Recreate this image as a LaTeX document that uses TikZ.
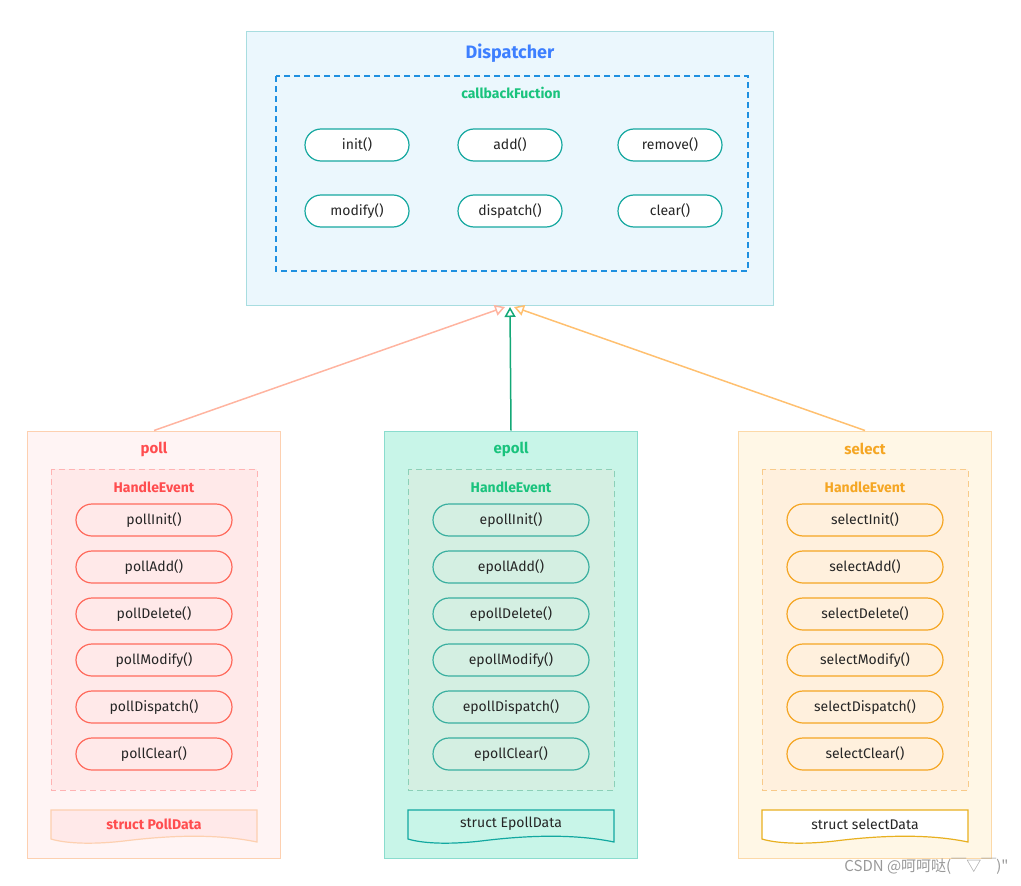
\documentclass[tikz,border=0pt]{standalone}
\usepackage{fontspec}
\setmainfont{Fira Sans}
\newfontfamily\cjk{Noto Sans CJK SC}
\usetikzlibrary{calc,arrows.meta}
\definecolor{dispfill}{HTML}{EBF7FD}\definecolor{displine}{HTML}{A8DDE0}
\definecolor{dispblue}{HTML}{3D7FFF}\definecolor{dashblue}{HTML}{1E90E0}
\definecolor{cbgreen}{HTML}{19C37D}\definecolor{pillteal}{HTML}{16A8A0}
\definecolor{pfill}{HTML}{FFF4F4}\definecolor{pline}{HTML}{FDD0B0}\definecolor{pin}{HTML}{FFE9E9}\definecolor{pdash}{HTML}{FFB3B3}\definecolor{pred}{HTML}{FF4D4F}\definecolor{ppill}{HTML}{FF6A5C}
\definecolor{efill}{HTML}{C8F5E8}\definecolor{eline}{HTML}{8ADCCE}\definecolor{ein}{HTML}{D4EFE2}\definecolor{edash}{HTML}{8CD0B8}\definecolor{epill}{HTML}{3AAFA0}\definecolor{edoc}{HTML}{12A8A0}
\definecolor{sfill}{HTML}{FFF7E6}\definecolor{sline}{HTML}{FCD9A8}\definecolor{sin}{HTML}{FFF0DD}\definecolor{sdash}{HTML}{F8CA8A}\definecolor{sor}{HTML}{F5A623}\definecolor{sdoc}{HTML}{E8B020}
\definecolor{txt}{HTML}{262626}
\definecolor{apoll}{HTML}{FFB4A0}\definecolor{aepoll}{HTML}{13A876}\definecolor{asel}{HTML}{FFC070}
\tikzset{
  box/.style={draw, line width=1pt, inner sep=0pt},
  pill/.style={draw, line width=1.2pt, rounded corners=16pt, minimum height=32pt, font=\fontsize{14pt}{16pt}\selectfont, text=txt},
  small/.style={pill, minimum width=104pt, fill=white},
  ev/.style={pill, minimum width=156pt},
  inh/.style={line width=1.5pt, -{Triangle[open,length=10pt,width=11pt]}},
}
\begin{document}
\begin{tikzpicture}[x=1pt,y=-1pt]
\useasboundingbox (0,0) rectangle (1021,886);
\draw[line width=1pt, draw=displine, fill=dispfill] (246,31) rectangle (773,305);
\node[inner sep=0pt, minimum width=527pt, minimum height=274pt] (disp) at (509.5,168) {};
\node[text=dispblue, font=\bfseries\fontsize{18pt}{20pt}\selectfont] (dt) at (510,53) {Dispatcher};
\draw[line width=1.2pt, dashblue, dash pattern=on 6pt off 4pt] (276,76) rectangle (748,271);
\node[text=cbgreen, font=\bfseries\fontsize{14pt}{16pt}\selectfont] (cb) at (511,93) {callbackFuction};
\foreach \n/\t/\x/\y in {i/init()/357/145, a/add()/510/145, r/remove()/670/145, m/modify()/357/211, d/dispatch()/510/211, c/clear()/670/211}
  \node[small, draw=pillteal] (\n) at (\x,\y) {\t};
\foreach \k/\cx/\fl/\ln/\inn/\da/\tc/\pc/\nm/\P in {
  p/154/pfill/pline/pin/pdash/pred/ppill/poll/poll,
  e/511/efill/eline/ein/edash/cbgreen/epill/epoll/epoll,
  s/865/sfill/sline/sin/sdash/sor/sor/select/select}{
  \node[box, draw=\ln, fill=\fl, minimum width=253pt, minimum height=427pt] (\k box) at (\cx,644.5) {};
  \node[text=\tc, font=\bfseries\fontsize{15pt}{17pt}\selectfont] (\k t) at (\cx,449) {\nm};
  \draw[line width=1pt, draw=\da, fill=\inn, dash pattern=on 6pt off 4pt] (\cx-103,469) rectangle (\cx+103,790);
  \node[text=\tc, font=\bfseries\fontsize{14pt}{16pt}\selectfont] (\k h) at (\cx,487) {HandleEvent};
  \foreach \j/\s/\y in {1/Init/520, 2/Add/567, 3/Delete/614, 4/Modify/660, 5/Dispatch/707, 6/Clear/754}
    \node[ev, draw=\pc, fill=\inn] (\k\j) at (\cx,\y) {\P\s()};
}
\foreach \k/\cx/\fl/\ln/\tc/\ft/\t in {p/154/pin/pline/pred/\bfseries/struct PollData, e/511/efill/edoc/txt//struct EpollData, s/865/white/sdoc/txt//struct selectData}{
  \draw[line width=1.2pt, draw=\ln, fill=\fl] (\cx-103,810) -- (\cx+103,810) -- (\cx+103,842)
    .. controls (\cx+60,833) and (\cx+10,836) .. (\cx-30,841)
    .. controls (\cx-65,845) and (\cx-90,843) .. (\cx-103,839) -- cycle;
  \node[text=\tc, font=\ft\fontsize{14pt}{16pt}\selectfont] (\k d) at (\cx,824) {\t};
}
\coordinate (tp) at (505,307); \coordinate (te) at (510,307); \coordinate (ts) at (514,307);
\draw[inh, apoll] (pbox.north) -- (tp);
\draw[inh, asel] (sbox.north) -- (ts);
\draw[inh, aepoll] (ebox.north) -- (te);
\node[anchor=east, text=gray!80, font=\cjk\fontsize{15pt}{17pt}\selectfont] (wm) at (1012,866) {CSDN @呵呵哒(￣▽￣)"};
\end{tikzpicture}
\end{document}
